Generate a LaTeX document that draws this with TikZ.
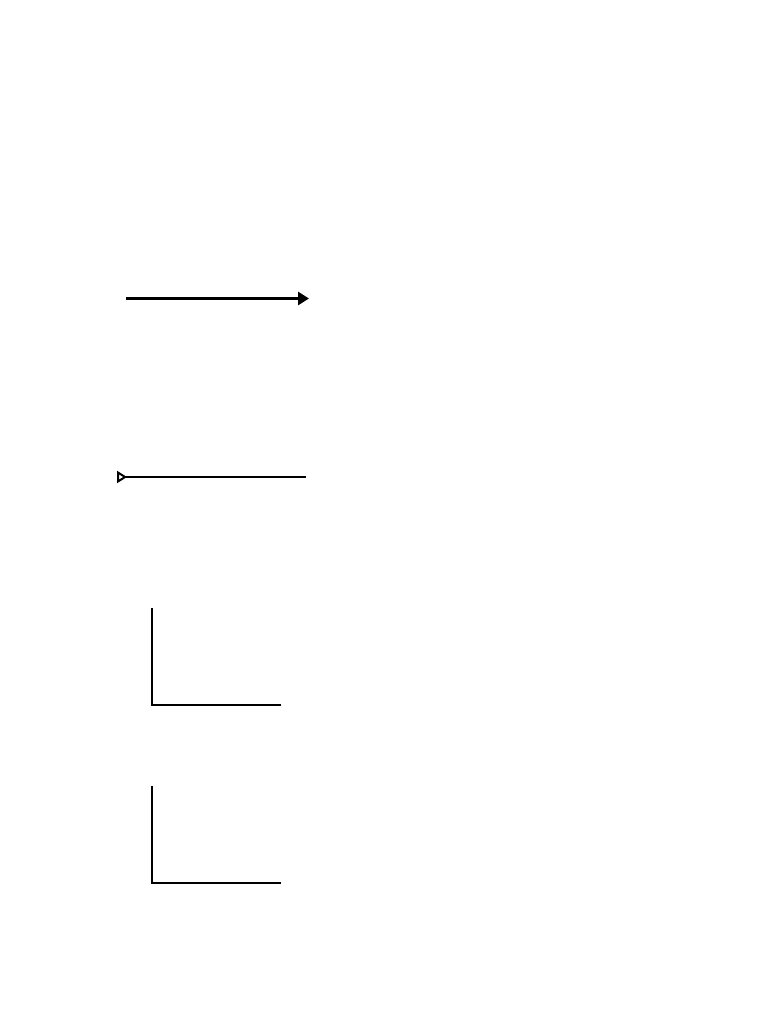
\documentclass[tikz,border=0pt]{standalone}
\usepackage{tikz}
\usetikzlibrary{arrows.meta}

\begin{document}
\begin{tikzpicture}[x=1pt, y=-1pt, line cap=butt,
    pfeil/.style={line width=3pt, -{Triangle[length=11pt, width=13pt]}},
    offen/.style={line width=2pt, {Triangle[open, reversed, length=10pt, width=12pt, line width=2pt]}-},
    achse/.style={line width=2.2pt}]
    \useasboundingbox (0,0) rectangle (768,1024);

    % Pfeile.
    \coordinate (p1a) at (126,298.5);
    \coordinate (p1b) at (309,298.5);
    \draw[pfeil] (p1a) -- (p1b);

    \coordinate (p2a) at (117,477);
    \coordinate (p2b) at (306,477);
    \draw[offen] (p2a) -- (p2b);

    % Achsen.
    \foreach \y [count=\i] in {705,883}
    {
        \coordinate (o\i) at (152,\y);
        \coordinate (y\i) at (152,\y-97);
        \coordinate (x\i) at (281,\y);
        \draw[achse] (y\i) -- (o\i) -- (x\i);
    }
\end{tikzpicture}
\end{document}
